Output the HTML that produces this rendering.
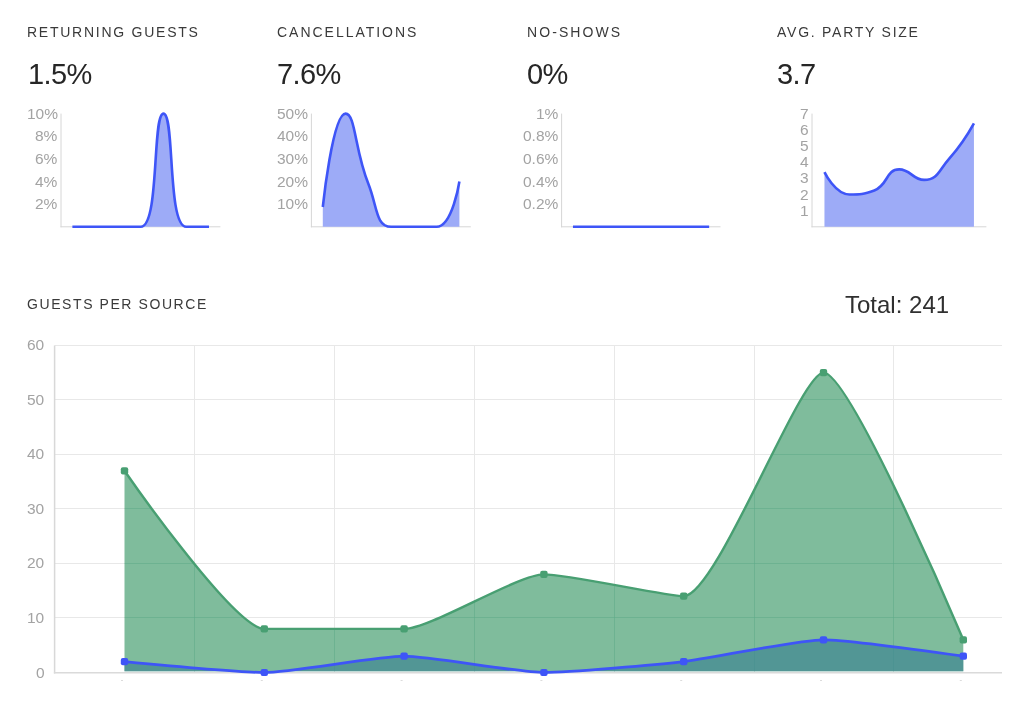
<!DOCTYPE html>
<html><head><meta charset="utf-8"><style>
html,body{margin:0;padding:0;background:#fff;width:1024px;height:702px;overflow:hidden;}
body{position:relative;font-family:"Liberation Sans",sans-serif;}
.t{position:absolute;font-size:14px;letter-spacing:1.75px;color:#3a3a3a;white-space:nowrap;line-height:16px;height:16px;}
body{-webkit-font-smoothing:antialiased;}
.t,.v,.yt,.yt2{will-change:transform;}
.v{position:absolute;font-size:29px;letter-spacing:-0.6px;color:#262626;white-space:nowrap;line-height:29px;height:29px;}
.yt{position:absolute;font-size:15.5px;color:#a3a3a3;line-height:16px;height:16px;white-space:nowrap;text-align:right;}
.yt2{position:absolute;font-size:15.5px;color:#a3a3a3;line-height:16px;height:16px;white-space:nowrap;text-align:right;}
svg{position:absolute;left:0;top:0;}
</style></head><body>
<svg width="1024" height="702" viewBox="0 0 1024 702">
<line x1="61.00" y1="113.60" x2="61.00" y2="227.30" stroke="#d6d6d6" stroke-width="1"/>
<line x1="60.50" y1="226.80" x2="220.40" y2="226.80" stroke="#d6d6d6" stroke-width="1"/>
<path d="M72.39 226.80 C72.39 226.80 83.77 226.80 95.16 226.80 C106.54 226.80 106.54 226.80 117.93 226.80 C129.31 226.80 136.95 226.80 140.70 226.80 C159.72 226.80 152.09 113.60 163.47 113.60 C174.86 113.60 167.22 226.80 186.24 226.80 C189.99 226.80 209.01 226.80 209.01 226.80 L209.01 226.80 L72.39 226.80 Z" fill="#9dabf7"/>
<path d="M72.39 226.80 C72.39 226.80 83.77 226.80 95.16 226.80 C106.54 226.80 106.54 226.80 117.93 226.80 C129.31 226.80 136.95 226.80 140.70 226.80 C159.72 226.80 152.09 113.60 163.47 113.60 C174.86 113.60 167.22 226.80 186.24 226.80 C189.99 226.80 209.01 226.80 209.01 226.80" fill="none" stroke="#3e55f7" stroke-width="2.6" stroke-linejoin="round"/>
<line x1="311.40" y1="113.60" x2="311.40" y2="227.30" stroke="#d6d6d6" stroke-width="1"/>
<line x1="310.90" y1="226.80" x2="470.80" y2="226.80" stroke="#d6d6d6" stroke-width="1"/>
<path d="M322.79 206.99 C322.79 206.99 332.67 113.60 345.56 113.60 C355.45 113.60 354.61 149.68 368.33 183.78 C377.38 206.28 375.59 226.80 391.10 226.80 C398.36 226.80 402.49 226.80 413.87 226.80 C425.26 226.80 429.58 226.80 436.64 226.80 C452.36 226.80 459.41 181.52 459.41 181.52 L459.41 226.80 L322.79 226.80 Z" fill="#9dabf7"/>
<path d="M322.79 206.99 C322.79 206.99 332.67 113.60 345.56 113.60 C355.45 113.60 354.61 149.68 368.33 183.78 C377.38 206.28 375.59 226.80 391.10 226.80 C398.36 226.80 402.49 226.80 413.87 226.80 C425.26 226.80 429.58 226.80 436.64 226.80 C452.36 226.80 459.41 181.52 459.41 181.52" fill="none" stroke="#3e55f7" stroke-width="2.6" stroke-linejoin="round"/>
<line x1="561.60" y1="113.60" x2="561.60" y2="227.30" stroke="#d6d6d6" stroke-width="1"/>
<line x1="561.10" y1="226.80" x2="720.50" y2="226.80" stroke="#d6d6d6" stroke-width="1"/>
<path d="M572.95 226.80 C572.95 226.80 584.30 226.80 595.65 226.80 C607.00 226.80 607.00 226.80 618.35 226.80 C629.70 226.80 629.70 226.80 641.05 226.80 C652.40 226.80 652.40 226.80 663.75 226.80 C675.10 226.80 675.10 226.80 686.45 226.80 C697.80 226.80 709.15 226.80 709.15 226.80 L709.15 226.80 L572.95 226.80 Z" fill="#9dabf7"/>
<path d="M572.95 226.80 C572.95 226.80 584.30 226.80 595.65 226.80 C607.00 226.80 607.00 226.80 618.35 226.80 C629.70 226.80 629.70 226.80 641.05 226.80 C652.40 226.80 652.40 226.80 663.75 226.80 C675.10 226.80 675.10 226.80 686.45 226.80 C697.80 226.80 709.15 226.80 709.15 226.80" fill="none" stroke="#3e55f7" stroke-width="2.6" stroke-linejoin="round"/>
<line x1="812.00" y1="113.60" x2="812.00" y2="227.30" stroke="#d6d6d6" stroke-width="1"/>
<line x1="811.50" y1="226.80" x2="986.40" y2="226.80" stroke="#d6d6d6" stroke-width="1"/>
<path d="M824.46 172.14 C824.46 172.14 835.17 194.46 849.37 194.46 C860.09 194.46 863.41 194.46 874.29 190.41 C888.33 185.19 885.58 169.39 899.20 169.39 C910.50 169.39 912.82 179.90 924.11 179.90 C937.73 179.90 938.35 171.01 949.03 158.88 C963.26 142.71 973.94 123.30 973.94 123.30 L973.94 226.80 L824.46 226.80 Z" fill="#9dabf7"/>
<path d="M824.46 172.14 C824.46 172.14 835.17 194.46 849.37 194.46 C860.09 194.46 863.41 194.46 874.29 190.41 C888.33 185.19 885.58 169.39 899.20 169.39 C910.50 169.39 912.82 179.90 924.11 179.90 C937.73 179.90 938.35 171.01 949.03 158.88 C963.26 142.71 973.94 123.30 973.94 123.30" fill="none" stroke="#3e55f7" stroke-width="2.6" stroke-linejoin="round"/>
<line x1="54.60" y1="617.50" x2="1002.00" y2="617.50" stroke="#e8e8e8" stroke-width="1"/>
<line x1="54.60" y1="563.50" x2="1002.00" y2="563.50" stroke="#e8e8e8" stroke-width="1"/>
<line x1="54.60" y1="508.50" x2="1002.00" y2="508.50" stroke="#e8e8e8" stroke-width="1"/>
<line x1="54.60" y1="454.50" x2="1002.00" y2="454.50" stroke="#e8e8e8" stroke-width="1"/>
<line x1="54.60" y1="399.50" x2="1002.00" y2="399.50" stroke="#e8e8e8" stroke-width="1"/>
<line x1="54.60" y1="345.50" x2="1002.00" y2="345.50" stroke="#e8e8e8" stroke-width="1"/>
<line x1="194.50" y1="345.40" x2="194.50" y2="672.50" stroke="#e8e8e8" stroke-width="1"/>
<line x1="334.50" y1="345.40" x2="334.50" y2="672.50" stroke="#e8e8e8" stroke-width="1"/>
<line x1="474.50" y1="345.40" x2="474.50" y2="672.50" stroke="#e8e8e8" stroke-width="1"/>
<line x1="614.50" y1="345.40" x2="614.50" y2="672.50" stroke="#e8e8e8" stroke-width="1"/>
<line x1="754.50" y1="345.40" x2="754.50" y2="672.50" stroke="#e8e8e8" stroke-width="1"/>
<line x1="893.50" y1="345.40" x2="893.50" y2="672.50" stroke="#e8e8e8" stroke-width="1"/>
<path d="M124.50 470.79 C124.50 470.79 234.03 628.89 264.30 628.89 C284.35 628.89 379.83 628.89 404.10 628.89 C430.15 628.89 518.00 574.37 543.90 574.37 C568.32 574.37 666.12 596.18 683.70 596.18 C716.45 596.18 800.02 372.66 823.50 372.66 C850.35 372.66 963.30 639.79 963.30 639.79 L963.30 671.30 L124.50 671.30 Z" fill="#489f72" fill-opacity="0.7"/>
<clipPath id="gclip"><path d="M124.50 470.79 C124.50 470.79 234.03 628.89 264.30 628.89 C284.35 628.89 379.83 628.89 404.10 628.89 C430.15 628.89 518.00 574.37 543.90 574.37 C568.32 574.37 666.12 596.18 683.70 596.18 C716.45 596.18 800.02 372.66 823.50 372.66 C850.35 372.66 963.30 639.79 963.30 639.79 L963.30 671.30 L124.50 671.30 Z"/></clipPath>
<g clip-path="url(#gclip)" stroke="#28a078" stroke-opacity="0.14" stroke-width="1"><line x1="54.60" y1="617.50" x2="1002.00" y2="617.50"/><line x1="54.60" y1="563.50" x2="1002.00" y2="563.50"/><line x1="54.60" y1="508.50" x2="1002.00" y2="508.50"/><line x1="54.60" y1="454.50" x2="1002.00" y2="454.50"/><line x1="54.60" y1="399.50" x2="1002.00" y2="399.50"/><line x1="54.60" y1="345.50" x2="1002.00" y2="345.50"/><line x1="194.50" y1="345.40" x2="194.50" y2="672.50"/><line x1="334.50" y1="345.40" x2="334.50" y2="672.50"/><line x1="474.50" y1="345.40" x2="474.50" y2="672.50"/><line x1="614.50" y1="345.40" x2="614.50" y2="672.50"/><line x1="754.50" y1="345.40" x2="754.50" y2="672.50"/><line x1="893.50" y1="345.40" x2="893.50" y2="672.50"/></g>
<path d="M124.50 661.60 C124.50 661.60 239.18 672.50 264.30 672.50 C289.51 672.50 378.94 656.14 404.10 656.14 C429.26 656.14 518.69 672.50 543.90 672.50 C569.02 672.50 658.65 664.53 683.70 661.60 C708.98 658.64 798.27 639.79 823.50 639.79 C848.60 639.79 963.30 656.14 963.30 656.14 L963.30 671.30 L124.50 671.30 Z" fill="#3f8693" fill-opacity="0.7"/>
<line x1="54.60" y1="345.40" x2="54.60" y2="673.40" stroke="#d8d8d8" stroke-width="1.5"/>
<line x1="53.90" y1="672.70" x2="1002.00" y2="672.70" stroke="#dadada" stroke-width="1.6"/>
<path d="M124.50 470.79 C124.50 470.79 234.03 628.89 264.30 628.89 C284.35 628.89 379.83 628.89 404.10 628.89 C430.15 628.89 518.00 574.37 543.90 574.37 C568.32 574.37 666.12 596.18 683.70 596.18 C716.45 596.18 800.02 372.66 823.50 372.66 C850.35 372.66 963.30 639.79 963.30 639.79" fill="none" stroke="#489f72" stroke-width="2.4" stroke-linejoin="round"/>
<path d="M124.50 661.60 C124.50 661.60 239.18 672.50 264.30 672.50 C289.51 672.50 378.94 656.14 404.10 656.14 C429.26 656.14 518.69 672.50 543.90 672.50 C569.02 672.50 658.65 664.53 683.70 661.60 C708.98 658.64 798.27 639.79 823.50 639.79 C848.60 639.79 963.30 656.14 963.30 656.14" fill="none" stroke="#3e55f7" stroke-width="2.8" stroke-linejoin="round"/>
<rect x="120.80" y="467.19" width="7.4" height="7.2" rx="2" fill="#489f72"/>
<rect x="260.60" y="625.29" width="7.4" height="7.2" rx="2" fill="#489f72"/>
<rect x="400.40" y="625.29" width="7.4" height="7.2" rx="2" fill="#489f72"/>
<rect x="540.20" y="570.77" width="7.4" height="7.2" rx="2" fill="#489f72"/>
<rect x="680.00" y="592.58" width="7.4" height="7.2" rx="2" fill="#489f72"/>
<rect x="819.80" y="369.06" width="7.4" height="7.2" rx="2" fill="#489f72"/>
<rect x="959.60" y="636.19" width="7.4" height="7.2" rx="2" fill="#489f72"/>
<rect x="120.80" y="658.00" width="7.4" height="7.2" rx="2" fill="#3e55f7"/>
<rect x="260.60" y="668.90" width="7.4" height="7.2" rx="2" fill="#3e55f7"/>
<rect x="400.40" y="652.54" width="7.4" height="7.2" rx="2" fill="#3e55f7"/>
<rect x="540.20" y="668.90" width="7.4" height="7.2" rx="2" fill="#3e55f7"/>
<rect x="680.00" y="658.00" width="7.4" height="7.2" rx="2" fill="#3e55f7"/>
<rect x="819.80" y="636.19" width="7.4" height="7.2" rx="2" fill="#3e55f7"/>
<rect x="959.60" y="652.54" width="7.4" height="7.2" rx="2" fill="#3e55f7"/>
<rect x="121.00" y="680" width="2" height="1" fill="#dcdcdc"/>
<rect x="260.80" y="680" width="2" height="1" fill="#dcdcdc"/>
<rect x="400.60" y="680" width="2" height="1" fill="#dcdcdc"/>
<rect x="540.40" y="680" width="2" height="1" fill="#dcdcdc"/>
<rect x="680.20" y="680" width="2" height="1" fill="#dcdcdc"/>
<rect x="820.00" y="680" width="2" height="1" fill="#dcdcdc"/>
<rect x="959.80" y="680" width="2" height="1" fill="#dcdcdc"/>
</svg>
<div class="t" style="left:27px;top:24px">RETURNING GUESTS</div>
<div class="t" style="left:277px;top:24px;letter-spacing:1.98px">CANCELLATIONS</div>
<div class="t" style="left:527px;top:24px;letter-spacing:2.08px">NO-SHOWS</div>
<div class="t" style="left:777px;top:24px">AVG. PARTY SIZE</div>
<div class="v" style="left:28px;top:60px">1.5%</div>
<div class="v" style="left:277px;top:60px">7.6%</div>
<div class="v" style="left:527px;top:60px">0%</div>
<div class="v" style="left:777px;top:60px">3.7</div>
<div class="t" style="left:27px;top:296px;letter-spacing:1.58px">GUESTS PER SOURCE</div>
<div class="v" style="left:845px;top:293px;font-size:24px;letter-spacing:0;line-height:24px;color:#303030">Total: 241</div>
<div class="yt" style="right:966.30px;top:105.80px">10%</div>
<div class="yt" style="right:966.30px;top:128.44px">8%</div>
<div class="yt" style="right:966.30px;top:151.08px">6%</div>
<div class="yt" style="right:966.30px;top:173.72px">4%</div>
<div class="yt" style="right:966.30px;top:196.36px">2%</div>
<div class="yt" style="right:715.90px;top:105.80px">50%</div>
<div class="yt" style="right:715.90px;top:128.44px">40%</div>
<div class="yt" style="right:715.90px;top:151.08px">30%</div>
<div class="yt" style="right:715.90px;top:173.72px">20%</div>
<div class="yt" style="right:715.90px;top:196.36px">10%</div>
<div class="yt" style="right:465.70px;top:105.80px">1%</div>
<div class="yt" style="right:465.70px;top:128.44px">0.8%</div>
<div class="yt" style="right:465.70px;top:151.08px">0.6%</div>
<div class="yt" style="right:465.70px;top:173.72px">0.4%</div>
<div class="yt" style="right:465.70px;top:196.36px">0.2%</div>
<div class="yt" style="right:215.30px;top:105.80px">7</div>
<div class="yt" style="right:215.30px;top:121.97px">6</div>
<div class="yt" style="right:215.30px;top:138.14px">5</div>
<div class="yt" style="right:215.30px;top:154.31px">4</div>
<div class="yt" style="right:215.30px;top:170.49px">3</div>
<div class="yt" style="right:215.30px;top:186.66px">2</div>
<div class="yt" style="right:215.30px;top:202.83px">1</div>
<div class="yt2" style="right:979.80px;top:664.50px">0</div>
<div class="yt2" style="right:979.80px;top:609.98px">10</div>
<div class="yt2" style="right:979.80px;top:555.47px">20</div>
<div class="yt2" style="right:979.80px;top:500.95px">30</div>
<div class="yt2" style="right:979.80px;top:446.43px">40</div>
<div class="yt2" style="right:979.80px;top:391.92px">50</div>
<div class="yt2" style="right:979.80px;top:337.40px">60</div>
</body></html>
